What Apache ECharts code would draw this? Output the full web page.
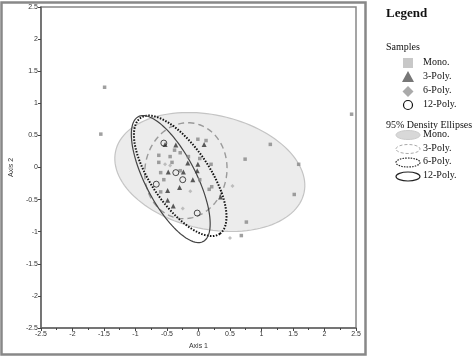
<!DOCTYPE html>
<html><head><meta charset="utf-8">
<script src="https://cdn.jsdelivr.net/npm/echarts@6/dist/echarts.min.js"></script>
<style>html,body{margin:0;padding:0;background:#fff}#c{width:474px;height:356px}</style>
</head><body><div id="c"></div>
<script>
// Sample points (Axis 1, Axis 2)
const monoPts = [
  [2.43,0.83],[1.14,0.36],[0.74,0.13],[1.59,0.05],[1.52,-0.42],[0.76,-0.85],[0.68,-1.06],
  [-1.49,1.25],[-1.55,0.52],
  [-0.01,0.44],[-0.38,0.27],[-0.29,0.23],[-0.63,0.19],[-0.45,0.17],[-0.16,0.17],
  [-0.63,0.08],[-0.42,0.08],[0.20,0.05],[0.02,0.14],[-0.60,-0.08],[-0.29,-0.05],
  [0.02,-0.19],[-0.55,-0.19],[-0.60,-0.38],[0.17,-0.34],[0.21,-0.30],[0.12,0.42]
];
const poly6Pts = [
  [-0.53,0.05],[-0.13,-0.37],[-0.25,-0.64],[0.50,-1.10],[0.54,-0.29],[-0.45,0.03]
];
const poly3Pts = [
  [-0.36,0.35],[0.09,0.36],[-0.17,0.07],[-0.01,0.05],[-0.48,-0.07],[-0.24,-0.07],
  [-0.02,-0.05],[-0.09,-0.19],[-0.30,-0.31],[-0.49,-0.36],[-0.49,-0.51],[-0.40,-0.60],
  [0.35,-0.46],[-0.53,0.36]
];
const poly12Pts = [
  [-0.55,0.38],[-0.36,-0.08],[-0.25,-0.19],[-0.67,-0.26],[-0.02,-0.71]
];
// Ellipses: [centerX, centerY, semiMajor, semiMinor, angleDeg]
const ellMono = [0.18,-0.07,1.53,0.89,-12];
const ell3 = [-0.2,-0.05,0.75,0.65,80];
const ell6 = [-0.29,-0.13,1.1,0.46,-55];
const ell12 = [-0.44,-0.18,1.1,0.40,-62];
const xTicks = [-2.5,2.5,0.5];
const yTicks = [-2.5,2.5,0.5];

function ellSeries(p, style, z){
  return {
    type:'custom', z:z, silent:true,
    data:[p],
    encode:{x:0,y:1},
    renderItem:function(params, api){
      const cx=api.value(0), cy=api.value(1), a=api.value(2), b=api.value(3), th=api.value(4)*Math.PI/180;
      const pts=[];
      for(let i=0;i<=120;i++){
        const t=i/120*2*Math.PI;
        const x=cx+a*Math.cos(t)*Math.cos(th)-b*Math.sin(t)*Math.sin(th);
        const y=cy+a*Math.cos(t)*Math.sin(th)+b*Math.sin(t)*Math.cos(th);
        pts.push(api.coord([x,y]));
      }
      return {type:'polygon', shape:{points:pts}, style:style};
    }
  };
}

const serif = '"Liberation Serif","DejaVu Serif",serif';
const ch = echarts.init(document.getElementById('c'));
const leg = [];
function txt(x,y,s,size,bold){ leg.push({type:'text',left:x,top:y-size*0.6,style:{text:s,font:(bold?'bold ':'')+size+'px '+serif,fill:'#111'}}); }
txt(386,15,'Legend',13,true);
txt(386,48,'Samples',10);
txt(386,126,'95% Density Ellipses',10);
const labs=['Mono.','3-Poly.','6-Poly.','12-Poly.'];
const sy=[63,77,91.5,105], ey=[135,149,162.5,176.5];
labs.forEach((l,i)=>{txt(423,sy[i],l,10);txt(423,ey[i],l,10);});
leg.push({type:'rect',shape:{x:403,y:58,width:10,height:10},style:{fill:'#c8c8c8'}});
leg.push({type:'polygon',shape:{points:[[408,71],[414,82],[402,82]]},style:{fill:'#777'}});
leg.push({type:'polygon',shape:{points:[[408,86],[413.5,91.5],[408,97],[402.5,91.5]]},style:{fill:'#aaa'}});
leg.push({type:'circle',shape:{cx:408,cy:105,r:4.5},style:{fill:'none',stroke:'#111',lineWidth:1.2}});
leg.push({type:'ellipse',shape:{cx:408,cy:135,rx:12,ry:4.5},style:{fill:'#d8d8d8',stroke:'#ccc'}});
leg.push({type:'ellipse',shape:{cx:408,cy:149,rx:12,ry:4.5},style:{fill:'none',stroke:'#aaa',lineDash:[3,2]}});
leg.push({type:'ellipse',shape:{cx:408,cy:162.5,rx:12,ry:4.5},style:{fill:'none',stroke:'#222',lineDash:[1.5,1.2],lineWidth:1.2}});
leg.push({type:'ellipse',shape:{cx:408,cy:176.5,rx:12,ry:4.5},style:{fill:'none',stroke:'#222',lineWidth:1.2}});
leg.push({type:'rect',shape:{x:1.5,y:2.5,width:364,height:352},style:{fill:'none',stroke:'#888',lineWidth:2.5},z:-1});

const axisCommon = {
  axisLine:{show:true,onZero:false,lineStyle:{color:'#666',width:1.5}},
  axisTick:{show:true,length:3,lineStyle:{color:'#444'}},
  axisLabel:{fontSize:7,color:'#333',fontFamily:'"Liberation Sans",Arial,sans-serif',margin:3},
  splitLine:{show:false},
  nameTextStyle:{fontSize:7,color:'#333',fontFamily:'"Liberation Sans",Arial,sans-serif'}
};
ch.setOption({
  animation:false,
  backgroundColor:'#fff',
  grid:{left:35,right:118,top:7,bottom:28,show:true,borderColor:'#888',borderWidth:1.5},
  xAxis:Object.assign({type:'value',min:xTicks[0],max:xTicks[1],interval:xTicks[2],name:'Axis 1',nameLocation:'middle',nameGap:13,
    minorTick:{show:true,splitNumber:2,length:2,lineStyle:{color:'#444'}}},axisCommon),
  yAxis:Object.assign({type:'value',min:yTicks[0],max:yTicks[1],interval:yTicks[2],name:'Axis 2',nameLocation:'middle',nameGap:25},axisCommon),
  graphic:leg,
  series:[
    ellSeries(ellMono,{fill:'#ececec',stroke:'#c4c4c4',lineWidth:1.2},1),
    ellSeries(ell3,{fill:'none',stroke:'#9a9a9a',lineWidth:1.4,lineDash:[6,4]},2),
    ellSeries(ell6,{fill:'none',stroke:'#111',lineWidth:2,lineDash:[1.5,1.5]},3),
    ellSeries(ell12,{fill:'none',stroke:'#444',lineWidth:1.2},3),
    {type:'scatter',name:'Mono.',data:monoPts,symbol:'rect',symbolSize:3.5,itemStyle:{color:'#888'},z:5},
    {type:'scatter',name:'6-Poly.',data:poly6Pts,symbol:'diamond',symbolSize:4,itemStyle:{color:'#b0b0b0'},z:5},
    {type:'scatter',name:'3-Poly.',data:poly3Pts,symbol:'triangle',symbolSize:5,itemStyle:{color:'#333'},z:6},
    {type:'scatter',name:'12-Poly.',data:poly12Pts,symbol:'circle',symbolSize:6,itemStyle:{color:'rgba(255,255,255,0)',borderColor:'#222',borderWidth:1},z:7}
  ]
});
</script></body></html>
